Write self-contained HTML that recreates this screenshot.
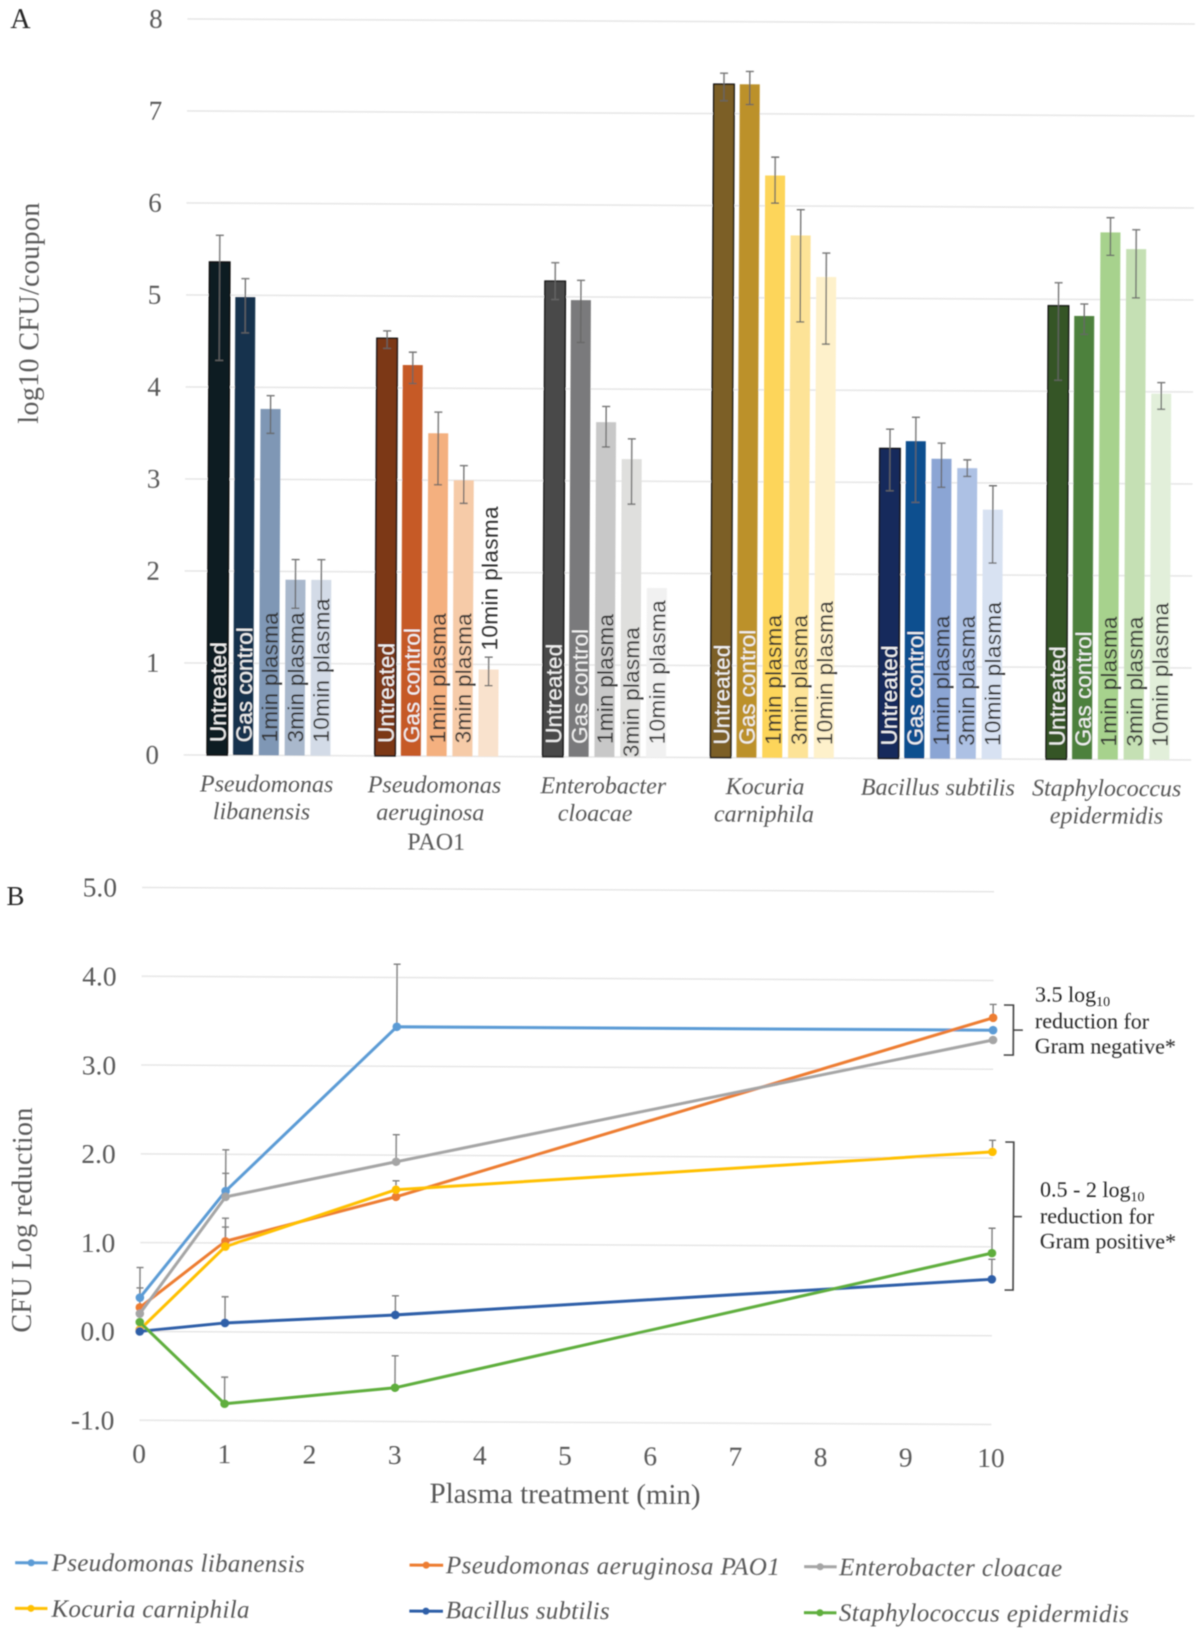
<!DOCTYPE html>
<html lang="en">
<head>
<meta charset="utf-8">
<title>Plasma treatment of bacterial coupons</title>
<style>
html,body{margin:0;padding:0;background:#fff;width:1200px;height:1633px;overflow:hidden}
svg{display:block}
text{font-family:"Liberation Serif",serif;fill:#595959}
.dark{fill:#262626}
.bar-label{font-family:"Liberation Sans",sans-serif;font-size:22.5px}
.it{font-style:italic}
</style>
</head>
<body>
<svg id="figure" xmlns="http://www.w3.org/2000/svg" width="1200" height="1633" viewBox="0 0 1200 1633">
<defs><filter id="soft" x="-2%" y="-2%" width="104%" height="104%"><feGaussianBlur stdDeviation="0.45"/></filter></defs>
<rect width="1200" height="1633" fill="#fff"/>
<g id="root" transform="rotate(0.287)" filter="url(#soft)">
  <text class="dark" x="10.5" y="28" font-size="28">A</text>
  <text class="dark" x="11" y="905" font-size="27">B</text>
  <text transform="translate(40,313) rotate(-90)" text-anchor="middle" font-size="28" textLength="221">log10 CFU/coupon</text>
  <text transform="translate(37.5,1220) rotate(-90)" text-anchor="middle" font-size="28" textLength="225">CFU Log reduction</text>
  <text x="572.5" y="1500.5" text-anchor="middle" font-size="29" textLength="271">Plasma treatment (min)</text>

  <g id="chartA"></g>
  <g id="chartB"></g>

  <g>
    <path d="M1009 1000 H1018.5 V1050 H1009 M1018.5 1025 H1028" fill="none" stroke="#404040" stroke-width="1.6"/>
    <text class="dark" x="1040" y="996.5" font-size="22">3.5 log<tspan font-size="14" dy="4">10</tspan></text>
    <text class="dark" x="1040" y="1023" font-size="22">reduction for</text>
    <text class="dark" x="1040" y="1048" font-size="22">Gram negative*</text>
  </g>
  <g>
    <path d="M1011 1137 H1019.5 V1285 H1011 M1019.5 1211.5 H1028" fill="none" stroke="#404040" stroke-width="1.6"/>
    <text class="dark" x="1046" y="1191.5" font-size="22">0.5 - 2 log<tspan font-size="14" dy="4">10</tspan></text>
    <text class="dark" x="1046" y="1218" font-size="22">reduction for</text>
    <text class="dark" x="1046" y="1243" font-size="22">Gram positive*</text>
  </g>

  <g>
    <g>
      <path d="M23 1562.6 H55.5" stroke="#5b9bd5" stroke-width="3"/><circle cx="39" cy="1562.6" r="3.5" fill="#5b9bd5"/>
      <text class="it" x="59.5" y="1570.5" font-size="25" textLength="253">Pseudomonas libanensis</text>
    </g>
    <g>
      <path d="M417.4 1563 H451" stroke="#ed7d31" stroke-width="3"/><circle cx="434" cy="1563" r="3.5" fill="#ed7d31"/>
      <text class="it" x="453.7" y="1571" font-size="25" textLength="334">Pseudomonas aeruginosa PAO1</text>
    </g>
    <g>
      <path d="M812 1562.6 H844.5" stroke="#a5a5a5" stroke-width="3"/><circle cx="828" cy="1562.6" r="3.5" fill="#a5a5a5"/>
      <text class="it" x="847" y="1571" font-size="25" textLength="223">Enterobacter cloacae</text>
    </g>
    <g>
      <path d="M23 1608.2 H55.5" stroke="#ffc000" stroke-width="3"/><circle cx="39" cy="1608.2" r="3.5" fill="#ffc000"/>
      <text class="it" x="59.5" y="1616.5" font-size="25" textLength="198">Kocuria carniphila</text>
    </g>
    <g>
      <path d="M417.4 1609 H451" stroke="#2f5fa8" stroke-width="3"/><circle cx="434" cy="1609" r="3.5" fill="#2f5fa8"/>
      <text class="it" x="453.7" y="1616" font-size="25" textLength="164">Bacillus subtilis</text>
    </g>
    <g>
      <path d="M812 1608.6 H844.5" stroke="#5fae3d" stroke-width="3"/><circle cx="828" cy="1608.6" r="3.5" fill="#5fae3d"/>
      <text class="it" x="847" y="1616.5" font-size="25" textLength="290">Staphylococcus epidermidis</text>
    </g>
  </g>
</g>
</svg>
<script>
// ---------- Panel A data ----------
const speciesKeys = ['pseudomonas-libanensis','pseudomonas-aeruginosa','enterobacter-cloacae','kocuria-carniphila','bacillus-subtilis','staphylococcus-epidermidis'];
const treatments = ['Untreated','Gas control','1min plasma','3min plasma','10min plasma'];
const yTicksA = [0,1,2,3,4,5,6,7,8];
const libanensisBars = [5.36,4.98,3.765,1.91,1.91];
const libanensisHigh = [5.65,5.18,3.91,2.13,2.13];
const libanensisLow = [4.29,4.59,3.5,1.6,1.68];
const aeruginosaBars = [4.54,4.25,3.51,3.0,0.945];
const aeruginosaHigh = [4.62,4.39,3.74,3.16,1.08];
const aeruginosaLow = [4.43,4.05,2.95,2.75,0.77];
const cloacaeBars = [5.17,4.965,3.64,3.24,1.84];
const cloacaeHigh = [5.37,5.18,3.81,3.46,1.84];
const cloacaeLow = [4.97,4.505,3.37,2.75,1.84];
const kocuriaBars = [7.32,7.32,6.33,5.68,5.23];
const kocuriaHigh = [7.44,7.46,6.53,5.96,5.49];
const kocuriaLow = [7.14,7.10,6.03,4.74,4.50];
const bacillusBars = [3.37,3.45,3.26,3.16,2.71];
const bacillusHigh = [3.58,3.71,3.43,3.25,2.97];
const bacillusLow = [2.91,2.785,2.95,3.07,2.13];
const staphBars = [4.93,4.82,5.73,5.55,3.98];
const staphHigh = [5.18,4.95,5.89,5.76,4.10];
const staphLow = [4.12,4.62,5.48,5.02,3.81];

// ---------- Panel B data ----------
const timePoints = [0,1,3,10];
const yTicksB = [-1,0,1,2,3,4,5];
const xTicksB = [0,1,2,3,4,5,6,7,8,9,10];
const libanensisReduction = [0.38,1.585,3.445,3.44];
const libanensisUpper = [0.72,2.05,4.15,3.44];
const aeruginosaReduction = [0.27,1.02,1.53,3.58];
const aeruginosaUpper = [0.49,1.28,1.53,3.73];
const cloacaeReduction = [0.20,1.52,1.925,3.33];
const cloacaeUpper = [0.20,1.785,2.23,3.33];
const kocuriaReduction = [0.02,0.96,1.61,2.07];
const kocuriaUpper = [0.02,1.18,1.71,2.2];
const bacillusReduction = [0.0,0.1,0.2,0.635];
const bacillusUpper = [0.0,0.395,0.415,0.86];
const staphReduction = [0.105,-0.81,-0.62,0.93];
const staphUpper = [0.105,-0.51,-0.26,1.21];

// ---------- Styling (not data) ----------
const barSets = [
  {name:['Pseudomonas','libanensis'], nudge:[-2,-7], extra:null, v:libanensisBars, hi:libanensisHigh, lo:libanensisLow, c:['#0d1a22','#17304d','#7f97b5','#a9b8cc','#d3dbe7']},
  {name:['Pseudomonas','aeruginosa'], nudge:[-2,-6], extra:'PAO1', v:aeruginosaBars, hi:aeruginosaHigh, lo:aeruginosaLow, c:['#7b3815','#c65a26','#f4b07f','#f6cba8','#f9e2cd']},
  {name:['Enterobacter','cloacae'], nudge:[-1,-9], extra:null, v:cloacaeBars, hi:cloacaeHigh, lo:cloacaeLow, c:['#4a4a4a','#7a7a7c','#c8c8c8','#dfdfdd','#f1f1f1']},
  {name:['Kocuria','carniphila'], nudge:[-7,-8], extra:null, v:kocuriaBars, hi:kocuriaHigh, lo:kocuriaLow, c:['#7b5e25','#bc9129','#fdd55a','#fde397','#fef1cb']},
  {name:['Bacillus subtilis'], nudge:[-2], extra:null, v:bacillusBars, hi:bacillusHigh, lo:bacillusLow, c:['#152c5b','#10508f','#8ba5d4','#adc1e4','#d8e2f2']},
  {name:['Staphylococcus','epidermidis'], nudge:[-1,-1], extra:null, v:staphBars, hi:staphHigh, lo:staphLow, c:['#365425','#4e813c','#a7d28d','#c5e0b4','#e2efda']}
];
const lineSets = [
  {key:'pseudomonas-libanensis', v:libanensisReduction, up:libanensisUpper, c:'#5b9bd5'},
  {key:'pseudomonas-aeruginosa', v:aeruginosaReduction, up:aeruginosaUpper, c:'#ed7d31'},
  {key:'enterobacter-cloacae', v:cloacaeReduction, up:cloacaeUpper, c:'#a5a5a5'},
  {key:'kocuria-carniphila', v:kocuriaReduction, up:kocuriaUpper, c:'#ffc000'},
  {key:'bacillus-subtilis', v:bacillusReduction, up:bacillusUpper, c:'#2f5fa8'},
  {key:'staphylococcus-epidermidis', v:staphReduction, up:staphUpper, c:'#5fae3d'}
];
const labelLengths = [100,115,130,130,144];

// ---------- Axis functions ----------
const yA = v => 754 - v * 92;
const barCenter = (g, i) => 221 + g * 167.8 + i * 25.8;
const xB = t => 146.4 + t * 85.18;
const yB = v => 1330.7 - v * 88.8;

const NS = 'http://www.w3.org/2000/svg';
function make(parent, tag, attrs, txt) {
  const el = document.createElementNS(NS, tag);
  for (const k in attrs) el.setAttribute(k, attrs[k]);
  if (txt !== undefined) el.textContent = txt;
  parent.appendChild(el);
  return el;
}
const chartA = document.getElementById('chartA');
const chartB = document.getElementById('chartB');

// ---------- Panel A ----------
yTicksA.forEach(t => {
  const line = make(chartA, 'line', {x1:187.5, x2:1195, y1:yA(t), y2:yA(t), stroke:'#e6e6e6', 'stroke-width':1.6});
  
  
  const lab = make(chartA, 'text', {x:156, y:yA(t) + 9, 'text-anchor':'middle', 'font-size':27}, String(t));
  
  
});
barSets.forEach((set, g) => {
  set.v.forEach((val, i) => {
    const cx = barCenter(g, i);
    const w = i === 0 ? 20.5 : 20;
    const bar = make(chartA, 'rect', {x:cx - w / 2, y:yA(val), width:w, height:yA(0) - yA(val), fill:set.c[i]});
    if (i === 0) { bar.setAttribute('stroke', '#111'); bar.setAttribute('stroke-width', '1.4'); }
    
    
  });
  set.v.forEach((val, i) => {
    const cx = barCenter(g, i);
    if (set.hi[i] !== set.lo[i]) {
      const err = make(chartA, 'path', {
        d:'M' + (cx - 4) + ' ' + yA(set.hi[i]) + 'H' + (cx + 4) + 'M' + cx + ' ' + yA(set.hi[i]) + 'V' + yA(set.lo[i]) + 'M' + (cx - 4) + ' ' + yA(set.lo[i]) + 'H' + (cx + 4),
        fill:'none', stroke:'#666', 'stroke-width':1.4, 'stroke-opacity':0.9
      });
      
      
    }
    let startY = 741;
    if (g === 1 && i === 4) startY = 648;
    if (g === 2 && i === 3) startY = 754;
    const label = make(chartA, 'text', {
      class:'bar-label',
      transform:'translate(' + (cx + 8.5) + ',' + startY + ') rotate(-90)',
      textLength:labelLengths[i]
    }, treatments[i]);
    label.style.fill = i < 2 ? '#f2f2f2' : '#333';
    
    
  });
  const mid = barCenter(g, 2);
  set.name.forEach((ln, k) => {
    const t = make(chartA, 'text', {class:'it', x:mid + set.nudge[k], y:790.5 + k * 27.5, 'text-anchor':'middle', 'font-size':24}, ln);
    
    
  });
  if (set.extra) {
    const t = make(chartA, 'text', {x:mid, y:790.5 + 2 * 28.5, 'text-anchor':'middle', 'font-size':24}, set.extra);
    
    
  }
});

// ---------- Panel B ----------
yTicksB.forEach(t => {
  const line = make(chartB, 'line', {x1:146.5, x2:998.5, y1:yB(t), y2:yB(t), stroke:'#e6e6e6', 'stroke-width':1.5});
  
  
  const lab = make(chartB, 'text', {x:121.5, y:yB(t) + 9.5, 'text-anchor':'end', 'font-size':27.5}, t.toFixed(1));
  
  
});
xTicksB.forEach(t => {
  const lab = make(chartB, 'text', {x:xB(t), y:1462, 'text-anchor':'middle', 'font-size':27.5}, String(t));
  
  
});
lineSets.forEach(s => {
  s.v.forEach((val, i) => {
    if (s.up[i] > val) {
      const cx = xB(timePoints[i]);
      const err = make(chartB, 'path', {
        d:'M' + cx + ' ' + yB(val) + 'V' + yB(s.up[i]) + 'M' + (cx - 3.5) + ' ' + yB(s.up[i]) + 'H' + (cx + 3.5),
        fill:'none', stroke:'#7f7f7f', 'stroke-width':1.4
      });
      
      
    }
  });
});
lineSets.forEach(s => {
  const pts = s.v.map((val, i) => xB(timePoints[i]) + ',' + yB(val)).join(' ');
  const line = make(chartB, 'polyline', {points:pts, fill:'none', stroke:s.c, 'stroke-width':3, 'stroke-linejoin':'round'});
  
  
  s.v.forEach((val, i) => {
    const dot = make(chartB, 'circle', {cx:xB(timePoints[i]), cy:yB(val), r:4.3, fill:s.c});
    
    
  });
});
</script>
</body>
</html>
